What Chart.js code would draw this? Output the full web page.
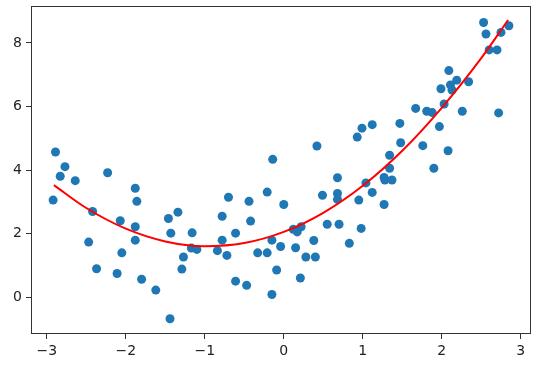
<!DOCTYPE html>
<html lang="en">
<head>
  <meta charset="UTF-8">
  <title>Quadratic fit</title>
  <script src="https://cdn.jsdelivr.net/npm/chart.js"></script>
  <style>
    body {
      margin: 0;
      padding: 0;
      background-color: #fff;
    }
    #chart {
      display: block;
    }
  </style>
</head>
<body>
  <canvas id="chart" width="556" height="366"></canvas>

  <script>
    // scatter samples
    const pointX = [
      -2.89, -2.77, -2.83, -2.64, -2.23, -2.92, -1.88, -1.86, -2.42, -2.07,
      -1.88, -1.88, -2.47, -2.05, -2.37, -2.11, -1.80, -1.62,
      -0.14, -0.21, 0.00, -0.70, -0.44, -1.46, -1.34, -0.78, -0.42, -1.43,
      -1.16, -0.61, -0.78, -1.17, -1.10, -0.84, -0.72, -1.27, -0.33, -0.21,
      -0.15, -0.04, -1.29, -0.09, -0.61, -0.47, -0.15, -1.44,
      0.99, 1.12, 0.93, 0.42, 1.34, 0.68, 0.68, 0.68, 0.49, 0.95,
      1.04, 1.12, 1.27, 0.55, 0.70, 0.98, 0.12, 0.17, 0.22, 0.38,
      0.15, 0.83, 0.28, 0.40, 0.21,
      2.53, 2.56, 2.75, 2.85, 2.60, 2.70, 2.09, 2.19, 2.11, 1.99,
      2.34, 2.13, 1.67, 1.81, 1.88, 2.03, 2.26, 2.72, 1.97, 1.47,
      1.48, 1.76, 2.08, 1.90, 1.34, 1.27, 1.28, 1.37
    ];
    const pointY = [
      4.57, 4.11, 3.81, 3.67, 3.92, 3.06, 3.43, 3.02, 2.70, 2.41,
      2.22, 1.80, 1.74, 1.40, 0.90, 0.75, 0.57, 0.23,
      4.34, 3.31, 2.92, 3.15, 3.02, 2.48, 2.68, 2.55, 2.40, 2.02,
      2.03, 2.02, 1.80, 1.55, 1.51, 1.47, 1.32, 1.27, 1.40, 1.40,
      1.80, 1.60, 0.89, 0.86, 0.51, 0.38, 0.09, -0.67,
      5.32, 5.43, 5.04, 4.76, 4.47, 3.76, 3.27, 3.08, 3.21, 3.06,
      3.60, 3.30, 2.92, 2.30, 2.30, 2.17, 2.14, 2.06, 2.22, 1.79,
      1.56, 1.70, 1.27, 1.27, 0.61,
      8.64, 8.28, 8.33, 8.54, 7.78, 7.78, 7.13, 6.83, 6.68, 6.56,
      6.78, 6.52, 5.94, 5.85, 5.81, 6.08, 5.85, 5.80, 5.37, 5.47,
      4.86, 4.77, 4.61, 4.06, 4.06, 3.77, 3.69, 3.69
    ];

    // red fitted curve, sampled along x
    const curveX = [-2.91, -2.5, -2.0, -1.5, -1.0, -0.5, 0, 0.5, 1.0, 1.5, 2.0, 2.5, 2.84];
    const curveY = [3.53, 2.81, 2.16, 1.76, 1.61, 1.71, 2.06, 2.66, 3.51, 4.61, 5.96, 7.52, 8.72];

    const xTicks = [-3, -2, -1, 0, 1, 2, 3];
    const yTicks = [0, 2, 4, 6, 8];

    const minus = v => (v < 0 ? "\u2212" + Math.abs(v) : String(v));

    // matplotlib draws all four spines
    const frame = {
      id: "frame",
      afterDraw(chart) {
        const a = chart.chartArea;
        const ctx = chart.ctx;
        ctx.save();
        ctx.strokeStyle = "#333";
        ctx.lineWidth = 1;
        ctx.strokeRect(a.left + 0.5, a.top + 0.5, a.right - a.left - 1, a.bottom - a.top - 1);
        ctx.restore();
      }
    };

    const noPad = s => {
      s.paddingTop = 0;
      s.paddingBottom = 0;
      s.paddingLeft = 0;
      s.paddingRight = 0;
    };

    const tickFont = { family: "'DejaVu Sans', sans-serif", size: 14 };

    new Chart(document.getElementById("chart").getContext("2d"), {
      type: "scatter",
      data: {
        datasets: [
          {
            type: "line",
            data: curveX.map((x, i) => ({ x, y: curveY[i] })),
            borderColor: "#ff0000",
            borderWidth: 2,
            pointRadius: 0,
            tension: 0.4,
            cubicInterpolationMode: "monotone",
            fill: false,
            order: 1
          },
          {
            data: pointX.map((x, i) => ({ x, y: pointY[i] })),
            backgroundColor: "#1f77b4",
            borderWidth: 0,
            pointRadius: 4.5,
            order: 2
          }
        ]
      },
      options: {
        responsive: false,
        animation: false,
        devicePixelRatio: 1,
        layout: { padding: { top: 6, right: 25, left: 0, bottom: 0 } },
        plugins: {
          legend: { display: false },
          tooltip: { enabled: false }
        },
        scales: {
          x: {
            type: "linear",
            min: -3.2,
            max: 3.13,
            afterBuildTicks: s => { s.ticks = xTicks.map(value => ({ value })); },
            afterFit: s => { s.height = 32; noPad(s); },
            border: { display: false },
            grid: { drawOnChartArea: false, drawTicks: true, tickLength: 5, color: "#333" },
            ticks: { color: "#222", font: tickFont, padding: 4, maxRotation: 0, callback: minus }
          },
          y: {
            type: "linear",
            min: -1.15,
            max: 9.16,
            afterBuildTicks: s => { s.ticks = yTicks.map(value => ({ value })); },
            afterFit: s => { s.width = 31; noPad(s); },
            border: { display: false },
            grid: { drawOnChartArea: false, drawTicks: true, tickLength: 5, color: "#333" },
            ticks: { color: "#222", font: tickFont, padding: 4, callback: minus }
          }
        }
      },
      plugins: [frame]
    });
  </script>
</body>
</html>
